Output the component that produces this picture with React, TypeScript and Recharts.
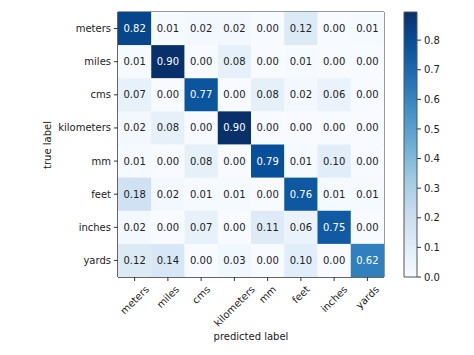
import React from 'react';
import { ScatterChart, Scatter, XAxis, YAxis, ReferenceArea, Label } from 'recharts';

const units = ['meters', 'miles', 'cms', 'kilometers', 'mm', 'feet', 'inches', 'yards'];

const rowMeters = [0.82, 0.01, 0.02, 0.02, 0.0, 0.12, 0.0, 0.01];
const rowMiles = [0.01, 0.9, 0.0, 0.08, 0.0, 0.01, 0.0, 0.0];
const rowCms = [0.07, 0.0, 0.77, 0.0, 0.08, 0.02, 0.06, 0.0];
const rowKilometers = [0.02, 0.08, 0.0, 0.9, 0.0, 0.0, 0.0, 0.0];
const rowMm = [0.01, 0.0, 0.08, 0.0, 0.79, 0.01, 0.1, 0.0];
const rowFeet = [0.18, 0.02, 0.01, 0.01, 0.0, 0.76, 0.01, 0.01];
const rowInches = [0.02, 0.0, 0.07, 0.0, 0.11, 0.06, 0.75, 0.0];
const rowYards = [0.12, 0.14, 0.0, 0.03, 0.0, 0.1, 0.0, 0.62];

const rows = [rowMeters, rowMiles, rowCms, rowKilometers, rowMm, rowFeet, rowInches, rowYards];

const colorMax = 0.895;
const colorbarTicks = [0, 0.1, 0.2, 0.3, 0.4, 0.5, 0.6, 0.7, 0.8];
const idx = [0, 1, 2, 3, 4, 5, 6, 7];

const cells = rows.flatMap((r, y) => r.map((v, x) => ({ x, y, v })));
// colorbar extent, used only so the axes have something to scale
const colorbarExtent = [{ x: 0, y: 0 }, { x: 1, y: colorMax }];

// matplotlib "Blues"
const blues = ['#f7fbff', '#deebf7', '#c6dbef', '#9ecae1', '#6baed6', '#4292c6', '#2171b5', '#08519c', '#08306b'];

const hex = (c: string) => [1, 3, 5].map((i) => parseInt(c.slice(i, i + 2), 16));
const blueAt = (t: number) => {
  const s = Math.max(0, Math.min(1, t)) * (blues.length - 1);
  const i = Math.min(Math.floor(s), blues.length - 2);
  const f = s - i;
  const a = hex(blues[i]);
  const b = hex(blues[i + 1]);
  const c = a.map((av, k) => Math.round(av + (b[k] - av) * f));
  return `rgb(${c[0]},${c[1]},${c[2]})`;
};

const W = 474;
const H = 355;
const plot = { left: 118, right: 384, top: 12, bottom: 277 };
const bar = { left: 404, right: 417 };
const cellW = (plot.right - plot.left) / 8;
const cellH = (plot.bottom - plot.top) / 8;
const font = 'DejaVu Sans';
const ink = '#222';

let ctx: CanvasRenderingContext2D | null = null;
const measure = (s: string) => {
  if (!ctx) {
    ctx = document.createElement('canvas').getContext('2d');
    if (ctx) ctx.font = `10px "${font}"`;
  }
  return ctx ? ctx.measureText(s).width : s.length * 6.2;
};

const Cell = (props: any) => {
  const { cx, cy, payload } = props;
  const v = payload.v;
  return (
    <g>
      <rect x={cx - cellW / 2} y={cy - cellH / 2} width={cellW + 0.3} height={cellH + 0.3} fill={blueAt(v / colorMax)} />
      <text x={cx} y={cy} textAnchor="middle" dominantBaseline="central" fontSize={10} fontFamily={font}
        fill={v > colorMax / 2 ? '#fff' : ink}>
        {v.toFixed(2)}
      </text>
    </g>
  );
};

const XTick = (props: any) => {
  const { x, y, payload } = props;
  const label = units[payload.value];
  const half = ((measure(label) + 10) * Math.SQRT1_2) / 2;
  const cy = y + half;
  return (
    <text x={x} y={cy} textAnchor="middle" dominantBaseline="central" fontSize={10} fontFamily={font}
      fill={ink} transform={`rotate(-45 ${x} ${cy})`}>
      {label}
    </text>
  );
};

export default function App() {
  return (
    <div style={{ position: 'absolute', left: 0, top: 0, width: W, height: H, fontFamily: font }}>
      <div style={{ position: 'absolute', left: 0, top: 0 }}>
        <ScatterChart width={W} height={H} margin={{ top: plot.top, right: W - plot.right, left: 0, bottom: 0 }}>
          <XAxis type="number" dataKey="x" domain={[-0.5, 7.5]} ticks={idx} height={H - plot.bottom}
            tickSize={4} tickMargin={3} tick={<XTick />} stroke="#333" interval={0} allowDataOverflow>
            <Label value="predicted label" position="insideBottom" offset={15} fontSize={10} fill={ink} fontFamily={font} />
          </XAxis>
          <YAxis type="number" dataKey="y" domain={[-0.5, 7.5]} ticks={idx} reversed width={plot.left}
            tickSize={4} tickMargin={3} tickFormatter={(i: number) => units[i]} interval={0} stroke="#333"
            tick={{ fontSize: 10, fill: ink, fontFamily: font }} allowDataOverflow>
            <Label content={() => (
              <text x={47} y={145} textAnchor="middle" dominantBaseline="central" fontSize={10} fontFamily={font}
                fill={ink} transform="rotate(-90 47 145)">true label</text>
            )} />
          </YAxis>
          <Scatter data={cells} shape={<Cell />} isAnimationActive={false} />
          <ReferenceArea x1={-0.5} x2={7.5} y1={-0.5} y2={7.5} fill="none" stroke="#333" strokeWidth={1}
            fillOpacity={0} ifOverflow="visible" />
        </ScatterChart>
      </div>
      <div style={{ position: 'absolute', left: 0, top: 0, pointerEvents: 'none' }}>
        <ScatterChart width={W} height={H}
          margin={{ top: plot.top, right: 0, left: bar.left, bottom: H - plot.bottom }}>
          <defs>
            <linearGradient id="bluesBar" x1="0" y1="1" x2="0" y2="0">
              {blues.map((c, i) => (
                <stop key={c} offset={`${(i / (blues.length - 1)) * 100}%`} stopColor={c} />
              ))}
            </linearGradient>
          </defs>
          <XAxis type="number" dataKey="x" domain={[0, 1]} hide />
          <YAxis type="number" dataKey="y" orientation="right" domain={[0, colorMax]} ticks={colorbarTicks}
            width={W - bar.right} tickSize={4} tickMargin={3} axisLine={false} stroke="#333" interval={0}
            allowDataOverflow tickFormatter={(v: number) => v.toFixed(1)}
            tick={{ fontSize: 10, fill: ink, fontFamily: font }} />
          <Scatter data={colorbarExtent} shape={() => <g />} isAnimationActive={false} />
          <ReferenceArea x1={0} x2={1} y1={0} y2={colorMax} fill="url(#bluesBar)" fillOpacity={1}
            stroke="#555" strokeWidth={1} ifOverflow="visible" />
        </ScatterChart>
      </div>
    </div>
  );
}
